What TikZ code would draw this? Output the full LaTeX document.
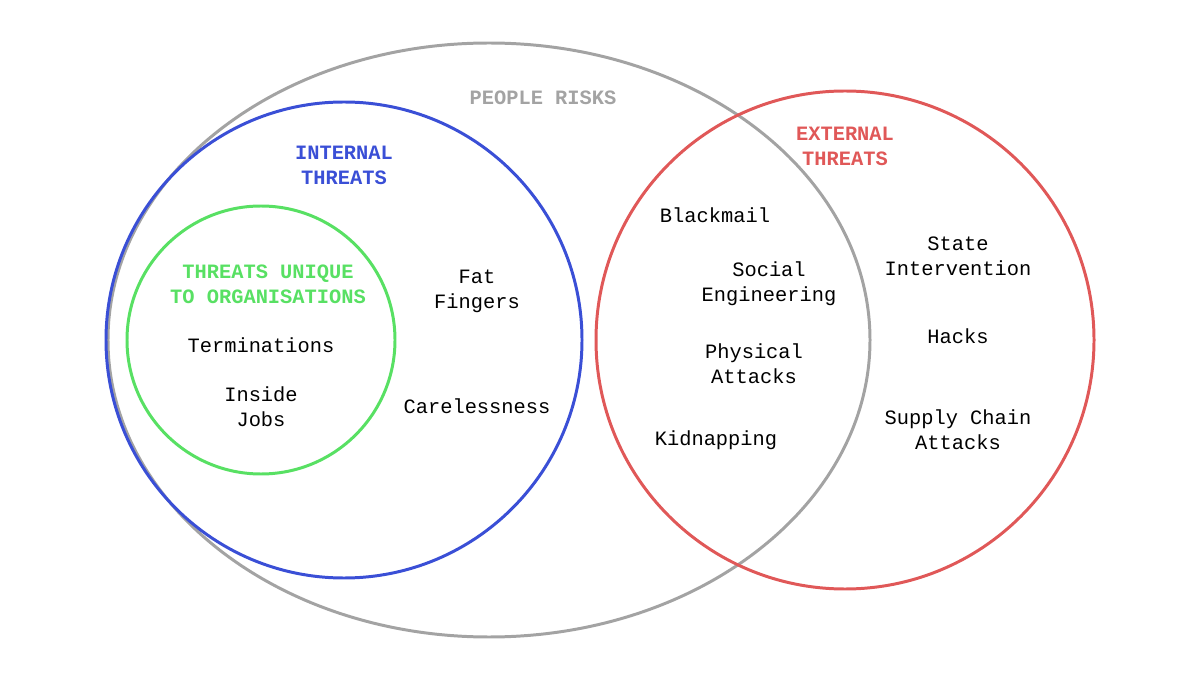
\documentclass[tikz,border=0pt]{standalone}
\usepackage{fontspec}
\setmonofont{Liberation Mono}
\usepackage{xcolor}
\definecolor{riskgrey}{HTML}{A3A3A3}
\definecolor{intblue}{HTML}{3A4FD6}
\definecolor{uniqgreen}{HTML}{58E063}
\definecolor{extred}{HTML}{E05858}
\begin{document}
\begin{tikzpicture}[x=0.02cm, y=-0.02cm,
	every node/.style={align=center, font=\ttfamily\fontsize{11.6}{14.2}\selectfont},
	ring/.style={line width=1.7pt},
	head/.style={font=\ttfamily\bfseries\fontsize{11.6}{14.2}\selectfont}]
	\useasboundingbox (0,0) rectangle (1200,675);
	\draw[ring, riskgrey] (489,340) ellipse [x radius=381, y radius=297];
	\draw[ring, intblue] (344,340) circle [radius=238];
	\draw[ring, uniqgreen] (261,340) circle [radius=134];
	\draw[ring, extred] (845,340) circle [radius=249];
	\node[head, text=riskgrey] (people) at (543,98) {PEOPLE RISKS};
	\node[head, text=intblue] (internal) at (344,165) {INTERNAL\\THREATS};
	\node[head, text=uniqgreen] (unique) at (268,284) {THREATS UNIQUE\\TO ORGANISATIONS};
	\node[head, text=extred] (external) at (845,146) {EXTERNAL\\THREATS};
	\node (term) at (261,345) {Terminations};
	\node (inside) at (261,407) {Inside\\Jobs};
	\node (fat) at (477,291) {Fat\\Fingers};
	\node (care) at (477,406) {Carelessness};
	\node (black) at (715,215) {Blackmail};
	\node (social) at (769,284) {Social\\Engineering};
	\node (phys) at (754,364) {Physical\\Attacks};
	\node (kid) at (716,440) {Kidnapping};
	\node (state) at (958,256) {State\\Intervention};
	\node (hacks) at (958,336) {Hacks};
	\node (supply) at (958,430) {Supply Chain\\Attacks};
\end{tikzpicture}
\end{document}
